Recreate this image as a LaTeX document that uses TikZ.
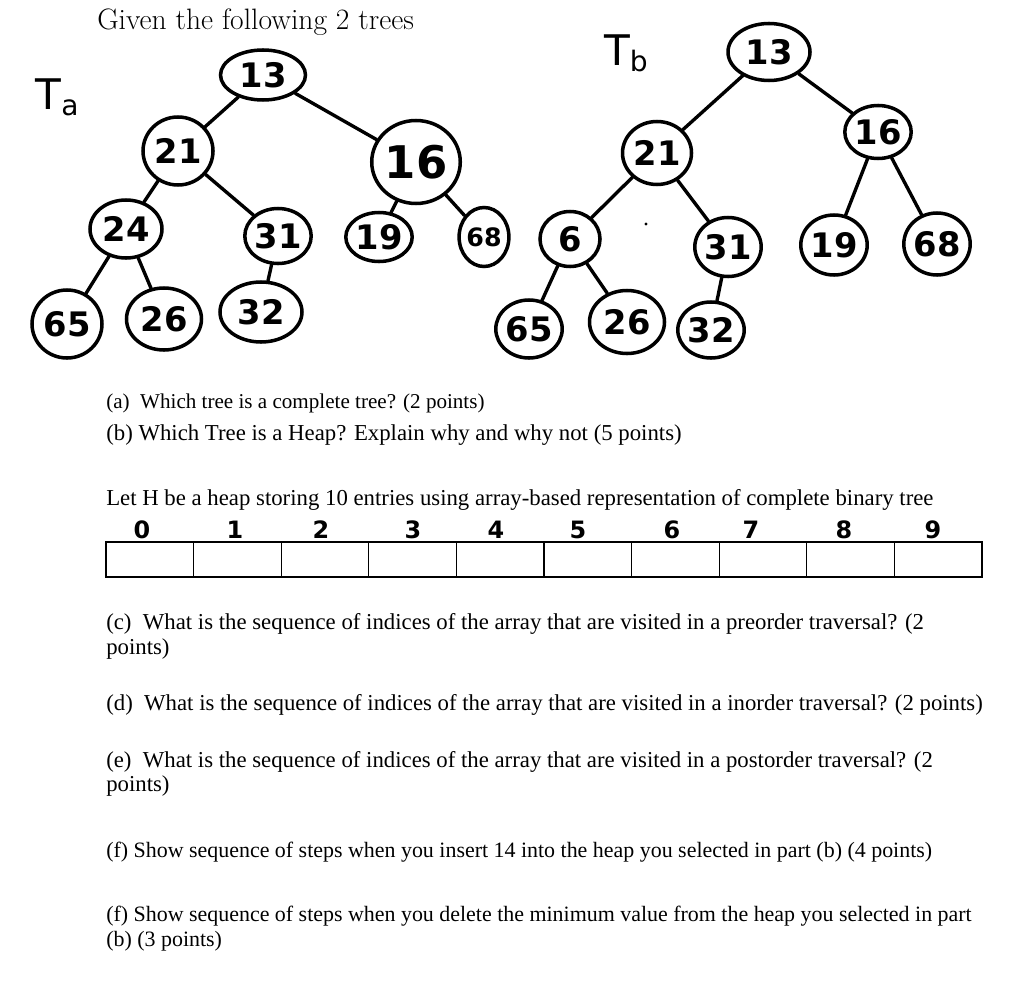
\documentclass[tikz,border=0pt]{standalone}
\usepackage{fontspec}
\newfontfamily\timesfont{Liberation Serif}
\newfontfamily\handfont{DejaVu Sans}
\usetikzlibrary{positioning}
\usetikzlibrary{shapes.geometric}

\begin{document}
\begin{tikzpicture}[x=0.25mm, y=-0.25mm,
    blob/.style 2 args={ellipse, draw, line width=2.5pt, inner sep=0pt,
        minimum width=#1*0.25mm, minimum height=#2*0.25mm,
        font=\handfont\bfseries\fontsize{24}{24}\selectfont},
    edge/.style={line width=2.4pt, line cap=round},
    question/.style={anchor=base west, inner sep=0pt,
        font=\timesfont\fontsize{16.2}{18}\selectfont},
    idx/.style={inner sep=0pt, font=\handfont\bfseries\fontsize{17}{17}\selectfont}]
    \useasboundingbox (0,0) rectangle (1024,1003);

    % Title
    \node[anchor=base west, inner sep=0pt, font=\fontsize{21}{23}\selectfont] (title) at (97,30) {Given the following 2 trees};

    % Tree Ta
    \node[font=\handfont\fontsize{30}{30}\selectfont] (labelA) at (57,97) {T\raisebox{-0.25ex}{\fontsize{20}{20}\selectfont a}};
    \node[blob={85}{50}] (a13) at (263,75) {13};
    \node[blob={70}{68}] (a21) at (178,151) {21};
    \node[blob={85}{83}, font=\handfont\bfseries\fontsize{32}{32}\selectfont] (a16) at (416,162) {16};
    \node[blob={72}{58}] (a24) at (126,229) {24};
    \node[blob={65}{55}] (a31) at (278,236) {31};
    \node[blob={65}{49}] (a19) at (379,237) {19};
    \node[blob={48}{59}, font=\handfont\bfseries\fontsize{18}{18}\selectfont] (a68) at (484,237) {68};
    \node[blob={70}{68}] (a65) at (67,324) {65};
    \node[blob={75}{62}] (a26) at (164,319) {26};
    \node[blob={82}{60}] (a32) at (261,312) {32};
    \draw[edge] (a13) -- (a21);
    \draw[edge] (a13) -- (a16);
    \draw[edge] (a21) -- (a24);
    \draw[edge] (a21) -- (a31);
    \draw[edge] (a16) -- (a19);
    \draw[edge] (a16) -- (a68);
    \draw[edge] (a24) -- (a65);
    \draw[edge] (a24) -- (a26);
    \draw[edge] (a31) -- (a32);

    % Tree Tb
    \node[font=\handfont\fontsize{30}{30}\selectfont] (labelB) at (626,53) {T\raisebox{-0.25ex}{\fontsize{20}{20}\selectfont b}};
    \node[blob={82}{57}] (b13) at (769,52) {13};
    \node[blob={69}{63}] (b21) at (657,153) {21};
    \node[blob={60}{53}] (b16) at (878,132) {16};
    \node[blob={60}{55}] (b6) at (570,239) {6};
    \node[blob={60}{59}] (b31) at (728,247) {31};
    \node[blob={58}{60}] (b19) at (834,245) {19};
    \node[blob={60}{62}] (b68) at (937,244) {68};
    \node[blob={62}{58}] (b65) at (529,329) {65};
    \node[blob={75}{63}] (b26) at (627,322) {26};
    \node[blob={58}{56}] (b32) at (711,330) {32};
    \draw[edge] (b13) -- (b21);
    \draw[edge] (b13) -- (b16);
    \draw[edge] (b21) -- (b6);
    \draw[edge] (b21) -- (b31);
    \draw[edge] (b16) -- (b19);
    \draw[edge] (b16) -- (b68);
    \draw[edge] (b6) -- (b65);
    \draw[edge] (b6) -- (b26);
    \draw[edge] (b31) -- (b32);
    \fill (646,224) circle (1.2pt);

    % Questions a, b
    \node[question, font=\timesfont\fontsize{15}{17}\selectfont] (qa) at (106,408) {(a)\ \ Which tree is a complete tree? (2 points)};
    \node[question] (qb) at (106,440) {(b) Which Tree is a Heap? Explain why and why not (5 points)};

    % Array
    \node[question] (qh) at (106,505) {Let H be a heap storing 10 entries using array-based representation of complete binary tree};
    \foreach \i/\x in {0/142,1/235,2/321,3/413,4/496,5/578,6/672,7/751,8/844,9/933}
        \node[idx] (idx\i) at (\x,530) {\i};
    \foreach \i in {0,...,9}
        \draw[line width=0.8pt] ({106+87.6*\i},542) rectangle ++(87.6,35);

    % Questions c to f
    \node[question] (qc) at (106,629) {(c)\ \ What is the sequence of indices of the array that are visited in a preorder traversal? (2};
    \node[question] (qc2) at (106,654) {points)};
    \node[question] (qd) at (106,710) {(d)\ \ What is the sequence of indices of the array that are visited in a inorder traversal? (2 points)};
    \node[question] (qe) at (106,767) {(e)\ \ What is the sequence of indices of the array that are visited in a postorder traversal? (2};
    \node[question] (qe2) at (106,791) {points)};
    \node[question, font=\timesfont\fontsize{15.6}{18}\selectfont] (qf) at (106,857) {(f) Show sequence of steps when you insert 14 into the heap you selected in part (b) (4 points)};
    \node[question, font=\timesfont\fontsize{15.6}{18}\selectfont] (qg) at (106,921) {(f) Show sequence of steps when you delete the minimum value from the heap you selected in part};
    \node[question, font=\timesfont\fontsize{15.6}{18}\selectfont] (qg2) at (106,946) {(b) (3 points)};
\end{tikzpicture}
\end{document}
